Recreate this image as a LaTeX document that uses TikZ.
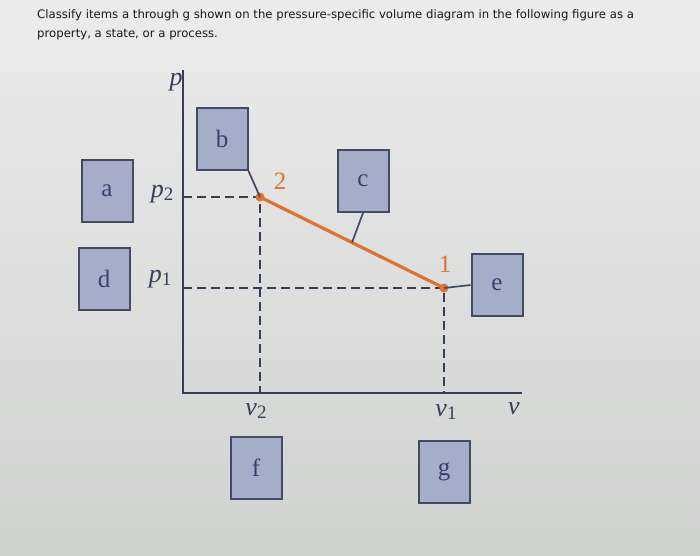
\documentclass[tikz,border=0pt]{standalone}
\usepackage{fontspec}
\setmainfont{Liberation Serif}
\newfontfamily\titlefont{DejaVu Sans}
\usepackage{tikz}
\usetikzlibrary{positioning,calc}
\definecolor{paper}{HTML}{EBECEB}
\definecolor{paperdark}{HTML}{D0D2D0}
\definecolor{boxfill}{HTML}{A5ADC8}
\definecolor{boxdraw}{HTML}{434A62}
\definecolor{boxtext}{HTML}{38416E}
\definecolor{axisline}{HTML}{373F56}
\definecolor{procorange}{HTML}{DE7232}
\tikzstyle{letterbox} = [draw=boxdraw, fill=boxfill, line width=2pt,
rectangle, minimum width=51pt, minimum height=62pt, inner sep=0pt,
text=boxtext, font=\fontsize{25}{25}\selectfont]
\tikzstyle{dashline} = [draw=axisline, dash pattern=on 9pt off 5pt, line width=1.6pt]
\tikzstyle{leader} = [draw=boxdraw, line width=1.7pt]
\tikzstyle{axislabel} = [text=axisline, font=\fontsize{26}{26}\selectfont]
\tikzstyle{statelabel} = [text=procorange, font=\fontsize{25}{25}\selectfont]
\newcommand{\varsub}[2]{\textit{#1}\raisebox{-0.3ex}{\fontsize{19}{19}\selectfont #2}}

\begin{document}
\begin{tikzpicture}[x=1pt, y=-1pt]
		% page
		\shade[top color=paper, bottom color=paperdark] (0,0) rectangle (700,555);
		\useasboundingbox (0,0) rectangle (700,555);
		\node [anchor=north west, align=left, inner sep=0pt, text=black!90,
		font=\titlefont\fontsize{11.7}{19.5}\selectfont] (question) at (37,9)
		{Classify items a through g shown on the pressure-specific volume diagram in the following figure as a\\
		property, a state, or a process.};
		%
		\coordinate (origin) at (183,393);
		\coordinate (ptop) at (183,70);
		\coordinate (vend) at (522,393);
		\coordinate (st2) at (260,197);
		\coordinate (st1) at (444,288);
		\coordinate (ptwo) at (183,197);
		\coordinate (pone) at (183,288);
		\coordinate (vtwo) at (260,393);
		\coordinate (vone) at (444,393);
		\draw [axisline, line width=2pt] (ptop) -- (origin) -- (vend);
		\draw [dashline] (ptwo) -- (st2) -- (vtwo);
		\draw [dashline] (pone) -- (st1) -- (vone);
		\node [axislabel] (plab) at (176,82) {\textit{p}};
		\node [axislabel] (ptwolab) at (162,194) {\varsub{p}{2}};
		\node [axislabel] (ponelab) at (160,279) {\varsub{p}{1}};
		\node [axislabel] (vtwolab) at (256,411) {\varsub{v}{2}};
		\node [axislabel] (vonelab) at (446,412) {\varsub{v}{1}};
		\node [axislabel] (vlab) at (514,409) {\textit{v}};
		% process line 2 -> 1
		\draw [procorange, line width=3.2pt] (st2) -- (st1);
		\fill [procorange] (st2) circle (4.5pt);
		\fill [procorange] (st1) circle (4.5pt);
		\node [statelabel] (lab2) at (280,181) {2};
		\node [statelabel] (lab1) at (445,264) {1};
		% boxes
		\node [letterbox] (a) at (107,191) {a};
		\node [letterbox] (b) at (222,139) {b};
		\node [letterbox] (c) at (363,181) {c};
		\node [letterbox] (d) at (104,279) {d};
		\node [letterbox] (e) at (497,285) {e};
		\node [letterbox] (f) at (256,468) {f};
		\node [letterbox] (g) at (444,472) {g};
		\draw [leader] (b.south east) -- (st2);
		\draw [leader] (c.south) -- ($(st2)!0.5!(st1)$);
		\draw [leader] (st1) -- (e.west);
\end{tikzpicture}
\end{document}
